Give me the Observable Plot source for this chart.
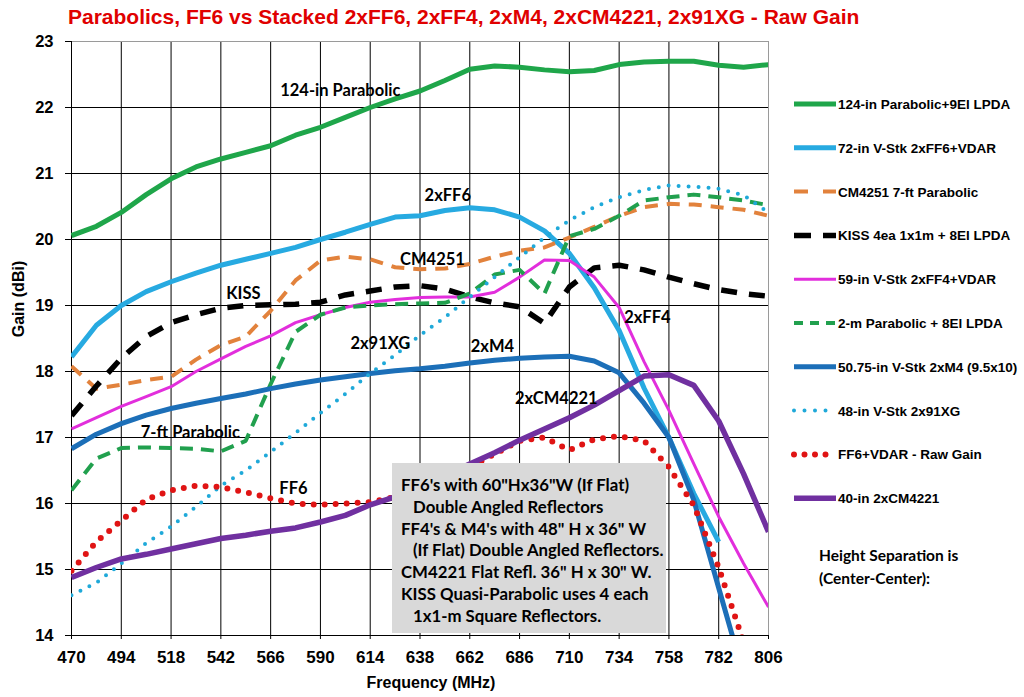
<!DOCTYPE html>
<html><head><meta charset="utf-8">
<script src="https://cdn.jsdelivr.net/npm/d3@7"></script>
<script src="https://cdn.jsdelivr.net/npm/@observablehq/plot@0.6"></script>
<style>
html,body{margin:0;padding:0;background:#fff;}
#chart{position:relative;width:1024px;height:697px;overflow:hidden;}
</style></head><body><div id="chart"></div>
<script>
// ---------- data ----------
const freq = [470,482,494,506,518,530,542,554,566,578,590,602,614,626,638,650,662,674,686,698,710,722,734,746,758,770,782,794,806];
const xTicks = [470,494,518,542,566,590,614,638,662,686,710,734,758,782,806];
const yTicks = [14,15,16,17,18,19,20,21,22,23];

const parabolic124 = [20.06,20.2,20.41,20.68,20.92,21.1,21.22,21.32,21.42,21.58,21.7,21.85,22.0,22.13,22.25,22.41,22.58,22.63,22.61,22.57,22.54,22.56,22.65,22.69,22.7,22.7,22.64,22.61,22.65];
const ff6x2 = [18.22,18.7,19.0,19.21,19.36,19.49,19.61,19.7,19.79,19.88,20.0,20.11,20.23,20.34,20.36,20.44,20.48,20.45,20.34,20.13,19.79,19.27,18.62,17.75,17.0,16.15,15.42,null,null];
const cm4251 = [18.08,17.74,17.8,17.87,17.92,18.18,18.4,18.53,18.92,19.38,19.68,19.74,19.7,19.58,19.55,19.56,19.63,19.74,19.83,19.88,20.03,20.19,20.36,20.49,20.54,20.53,20.49,20.45,20.36];
const kiss = [17.33,17.78,18.2,18.53,18.74,18.86,18.96,19.0,19.01,19.02,19.05,19.16,19.22,19.28,19.3,19.25,19.13,19.04,18.98,18.73,19.28,19.57,19.61,19.54,19.43,19.33,19.24,19.18,19.14];
const ff4x2 = [17.13,17.3,17.47,17.62,17.77,18.0,18.19,18.38,18.54,18.74,18.86,18.97,19.05,19.09,19.12,19.13,19.13,19.2,19.43,19.69,19.68,19.43,18.97,18.15,17.41,16.6,15.8,15.09,14.43];
const parabolic2m = [16.2,16.68,16.84,16.85,16.84,16.83,16.79,16.95,17.81,18.6,18.86,18.97,19.0,19.02,19.03,19.04,19.18,19.47,19.54,19.18,20.05,20.16,20.36,20.59,20.64,20.68,20.64,20.59,20.52];
const m4x2 = [16.83,17.05,17.21,17.34,17.44,17.52,17.59,17.66,17.74,17.81,17.87,17.92,17.97,18.01,18.04,18.08,18.13,18.17,18.2,18.22,18.23,18.16,17.98,17.52,17.0,16.05,14.72,13.4,null];
const xg91x2 = [14.61,14.8,15.09,15.4,15.65,15.95,16.27,16.5,16.78,17.07,17.37,17.66,17.97,18.25,18.55,18.82,19.13,19.43,19.73,20.03,20.29,20.49,20.64,20.75,20.82,20.8,20.77,20.67,20.41];
const ff6raw = [14.98,15.42,15.74,16.06,16.2,16.27,16.25,16.17,16.08,16.0,15.98,16.0,16.02,16.1,16.2,16.35,16.55,16.75,16.95,17.0,16.81,16.97,17.02,16.95,16.55,15.97,15.03,13.9,null];
const cm4221x2 = [14.88,15.03,15.16,15.23,15.31,15.39,15.47,15.52,15.58,15.63,15.72,15.82,15.98,16.1,16.25,16.42,16.6,16.77,16.96,17.13,17.3,17.49,17.71,17.93,17.95,17.79,17.25,16.45,15.57];

const seriesNames = ["124-in Parabolic+9El LPDA","72-in V-Stk 2xFF6+VDAR","CM4251 7-ft Parabolic","KISS 4ea 1x1m + 8El LPDA","59-in V-Stk 2xFF4+VDAR","2-m Parabolic + 8El LPDA","50.75-in V-Stk 2xM4 (9.5x10)","48-in V-Stk 2x91XG","FF6+VDAR - Raw Gain","40-in 2xCM4221"];
const seriesValues = [parabolic124, ff6x2, cm4251, kiss, ff4x2, parabolic2m, m4x2, xg91x2, ff6raw, cm4221x2];

const labelTexts = ["124-in Parabolic","2xFF6","CM4251","KISS","2xFF4","2x91XG","2xM4","2xCM4221","7-ft Parabolic","FF6"];
const labelFreq  = [599.6,651.4,644,552.9,747.6,618.9,672.9,703.7,527.3,577];
const labelGain  = [22.26,20.67,19.70,19.18,18.82,18.42,18.38,17.59,17.08,16.23];

const noteLines = ["FF6's with 60\"Hx36\"W (If Flat)","  Double Angled Reflectors","FF4's & M4's with 48\" H x 36\" W","  (If Flat) Double Angled Reflectors.","CM4221 Flat Refl. 36\" H x 30\" W.","KISS Quasi-Parabolic uses 4 each","  1x1-m Square Reflectors."];
const titleText = "Parabolics, FF6 vs Stacked 2xFF6, 2xFF4, 2xM4, 2xCM4221, 2x91XG - Raw Gain";

// ---------- styles ----------
const styles = [
  {color:"#1FA64A", width:5},
  {color:"#27AAE1", width:5},
  {color:"#E2823C", width:4, dash:"13,9", ldash:"14,15"},
  {color:"#000000", width:5.5, dash:"16,12", ldash:"17,12"},
  {color:"#E22EDC", width:3},
  {color:"#21A04E", width:4, dash:"13,8", ldash:"9,7"},
  {color:"#1C6FB8", width:5},
  {color:"#1FA9D9", width:4, dash:"0,10", cap:"round", ldash:"0,10.5"},
  {color:"#E01414", width:6, dash:"0,11", cap:"round", ldash:"0,10.5"},
  {color:"#7030A0", width:5.5}
];

const FONT = "'Liberation Sans', Arial, sans-serif";
const CAL = "Lato, 'Open Sans', sans-serif";

const lineMarks = seriesValues.map((vals, i) => {
  const s = styles[i];
  const rows = freq.map((f, j) => ({f, g: vals[j]}));
  return Plot.line(rows, {
    x: "f", y: "g", stroke: s.color, strokeWidth: s.width,
    strokeDasharray: s.dash, strokeLinecap: s.cap || "butt", strokeLinejoin: "round",
    clip: true
  });
});

const labels = labelTexts.map((t, i) => ({t, f: labelFreq[i], g: labelGain[i]}));

const plot = Plot.plot({
  width: 1024, height: 697,
  marginLeft: 71, marginRight: 256, marginTop: 41, marginBottom: 62,
  style: {fontFamily: FONT, background: "#fff", overflow: "visible"},
  x: {domain: [470, 806]},
  y: {domain: [14, 23]},
  marks: [
    Plot.gridX(xTicks.slice(0, -1), {stroke: "#000", strokeOpacity: 1, strokeWidth: 1}),
    Plot.gridY(yTicks.slice(0, -1), {stroke: "#000", strokeOpacity: 1, strokeWidth: 1}),
    Plot.ruleY([23], {stroke: "#9a9a9a", strokeWidth: 1}),
    Plot.ruleX([806], {stroke: "#9a9a9a", strokeWidth: 1}),
    Plot.axisX(xTicks, {tickSize: 4, tickPadding: 11, fontSize: 17, fontWeight: "bold", label: null, fill: "#000", tickFormat: d => String(d)}),
    Plot.axisY(yTicks, {tickSize: 6, tickPadding: 12, fontSize: 16.5, fontWeight: "bold", label: null, fill: "#000", tickFormat: d => String(d)}),
    Plot.ruleX([470], {stroke: "#000", strokeWidth: 1}),
    ...lineMarks,
    Plot.text(labels, {x: "f", y: "g", text: "t", fontFamily: CAL, fontWeight: "bold", fontSize: 16.5, fill: "#000", textAnchor: "middle"})
  ]
});

document.getElementById("chart").appendChild(plot);
const svg = d3.select(plot);

function addText(parent, x, y, txt, opts) {
  const t = parent.append("text").attr("x", x).attr("y", y)
    .attr("text-anchor", opts.anchor || "start")
    .attr("font-family", opts.family || FONT).attr("font-weight", "bold")
    .attr("font-size", opts.size).attr("fill", opts.fill || "#000").text(txt);
  if (opts.transform) t.attr("transform", opts.transform);
  return t;
}

// title
addText(svg, 68, 24, titleText, {size: 21, fill: "#E00000"});

// axis titles
addText(svg, 431, 688, "Frequency (MHz)", {size: 16, anchor: "middle"});
addText(svg, 0, 0, "Gain (dBi)", {size: 16, anchor: "middle", transform: "translate(24,299) rotate(-90)"});

// legend
const lg = svg.append("g");
seriesNames.forEach((name, i) => {
  const s = styles[i];
  const y = 104 + i * 43.8;
  lg.append("line").attr("x1", 794).attr("x2", 836).attr("y1", y).attr("y2", y)
    .attr("stroke", s.color).attr("stroke-width", s.width)
    .attr("stroke-dasharray", s.ldash || null)
    .attr("stroke-linecap", s.cap || "butt");
  addText(lg, 838, y + 5, name, {size: 13.5});
});

// height separation note
addText(svg, 819, 561, "Height Separation is", {size: 15.5, family: CAL});
addText(svg, 819, 584, "(Center-Center):", {size: 15.5, family: CAL});

// annotation box
const nb = svg.append("g");
nb.append("rect").attr("x", 392).attr("y", 463).attr("width", 274).attr("height", 170).attr("fill", "#D9D9D9");
noteLines.forEach((t, i) => {
  const indent = t.startsWith("  ");
  addText(nb, indent ? 413 : 401, 491 + i * 21.8, t.trim(), {size: 16.8, family: CAL});
});
</script></body></html>
